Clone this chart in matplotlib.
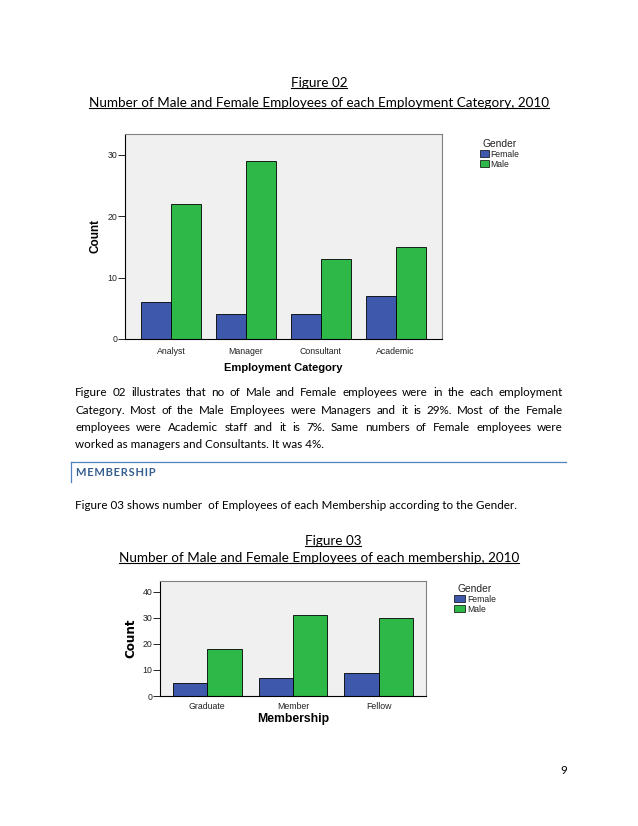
import numpy as np
import matplotlib
matplotlib.use("Agg")
import matplotlib.pyplot as plt
from matplotlib.lines import Line2D
from matplotlib.patches import Patch

# data
emp_categories = ["Analyst", "Manager", "Consultant", "Academic"]
emp_female = [6, 4, 4, 7]
emp_male = [22, 29, 13, 15]

mem_categories = ["Graduate", "Member", "Fellow"]
mem_female = [5, 7, 9]
mem_male = [18, 31, 30]

para_lines = [
    "Figure 02 illustrates that no of Male and Female employees were in the each employment",
    "Category. Most of the Male Employees were Managers and it is 29%. Most of the Female",
    "employees were Academic staff and it is 7%.  Same numbers of Female employees were",
    "worked as managers and Consultants. It was 4%.",
]
fig03_line = "Figure 03 shows number  of Employees of each Membership according to the Gender."

W, H = 638, 826
BODY = "Lato"
CHART = "Liberation Sans"
FEM_COL = "#3e58ac"
MALE_COL = "#2eb848"

fig = plt.figure(figsize=(W / 100, H / 100), dpi=100)
renderer = fig.canvas.get_renderer()


def fx(x):
    return x / W


def fy(y):
    return 1 - y / H


def put(x, y, s, size, ha="left", underline=False, **kw):
    t = fig.text(fx(x), fy(y), s, fontsize=size, family=BODY, ha=ha, va="center", **kw)
    if underline:
        bb = t.get_window_extent(renderer)
        yl = bb.y0 + 1
        fig.add_artist(Line2D([bb.x0 / W, bb.x1 / W], [yl / H, yl / H],
                              transform=fig.transFigure, color="black", lw=0.8))
    return t


def justify(x0, x1, y, line, size):
    words = line.split()
    widths = []
    for w in words:
        t = fig.text(0, 0, w, fontsize=size, family=BODY)
        widths.append(t.get_window_extent(renderer).width)
        t.remove()
    gap = (x1 - x0 - sum(widths)) / (len(words) - 1)
    x = x0
    for w, wd in zip(words, widths):
        put(x, y, w, size)
        x += wd + gap


def bar_chart(rect, cats, fem, male, ylim, yticks, xlabel, xpad, legend_xy, handle_len,
              count_kw, xlabel_size, tick_pad, label_pad):
    ax = fig.add_axes(rect)
    x = np.arange(len(cats))
    bw = 0.4
    ax.bar(x - bw / 2, fem, bw, color=FEM_COL, edgecolor="black", linewidth=0.6, label="Female")
    ax.bar(x + bw / 2, male, bw, color=MALE_COL, edgecolor="black", linewidth=0.6, label="Male")
    ax.set_facecolor("#f0f0f0")
    ax.set_xlim(-xpad, len(cats) - 1 + xpad)
    ax.set_ylim(*ylim)
    ax.set_yticks(yticks)
    ax.set_xticks(x)
    ax.set_xticklabels(cats, fontsize=6.3, family=CHART, color="#222222")
    for lab in ax.get_yticklabels():
        lab.set_fontsize(6.3)
        lab.set_family(CHART)
        lab.set_color("#222222")
    ax.tick_params(axis="x", length=0, pad=tick_pad)
    ax.tick_params(axis="y", length=5, width=0.6, pad=0.5)
    for s in ["top", "right"]:
        ax.spines[s].set_color("#808080")
        ax.spines[s].set_linewidth(0.8)
    for s in ["left", "bottom"]:
        ax.spines[s].set_color("black")
        ax.spines[s].set_linewidth(0.8)
    ax.set_xlabel(xlabel, fontsize=xlabel_size, family=CHART, fontweight="bold", labelpad=label_pad)
    ax.set_ylabel("Count", fontweight="bold", labelpad=4, **count_kw)
    handles = [Patch(facecolor=FEM_COL, edgecolor="black", linewidth=0.5, label="Female"),
               Patch(facecolor=MALE_COL, edgecolor="black", linewidth=0.5, label="Male")]
    leg = ax.legend(handles=handles, title="Gender", loc="upper left",
                    bbox_to_anchor=(fx(legend_xy[0]), fy(legend_xy[1])),
                    bbox_transform=fig.transFigure, frameon=False,
                    prop={"family": CHART, "size": 6.2},
                    title_fontproperties={"family": CHART, "size": 7.4},
                    handlelength=handle_len, handleheight=0.9, handletextpad=0.2,
                    labelspacing=0.1, borderpad=0, borderaxespad=0)
    leg.get_title().set_color("#222222")
    for t in leg.get_texts():
        t.set_color("#222222")
    return ax


# Figure 02 block
put(319, 83, "Figure 02", 9.7, ha="center", underline=True)
put(319, 103, "Number of Male and Female Employees of each Employment Category, 2010", 9.7,
    ha="center", underline=True)

bar_chart([fx(125), fy(339), (442 - 125) / W, (339 - 134) / H],
          emp_categories, emp_female, emp_male, (0, 33.4), [0, 10, 20, 30], "Employment Category",
          0.62, (480, 139), 1.0, {"fontsize": 8.5, "family": CHART}, 8, 5.5, 5)

# paragraph
for i, line in enumerate(para_lines):
    yy = 393 + i * 17.3
    if i < len(para_lines) - 1:
        justify(75, 563, yy, line, 8.4)
    else:
        put(75, yy, line, 8.4)

# section heading with rule
fig.add_artist(Line2D([fx(71), fx(566)], [fy(462), fy(462)], transform=fig.transFigure,
                      color="#4f81bd", lw=0.9))
fig.add_artist(Line2D([fx(71), fx(71)], [fy(462), fy(482)], transform=fig.transFigure,
                      color="#4f81bd", lw=0.9))
fig.text(fx(76), fy(473), "\u200a".join("MEMBERSHIP"), fontsize=8,
         family=BODY, fontweight="bold", color="#365f91", va="center")

put(75, 506, fig03_line, 8.4)

# Figure 03 block
put(333, 541, "Figure 03", 9.7, ha="center", underline=True)
put(319, 558, "Number of Male and Female Employees of each membership, 2010", 9.7,
    ha="center", underline=True)

bar_chart([fx(160), fy(696), (426 - 160) / W, (696 - 581) / H],
          mem_categories, mem_female, mem_male, (0, 44.2), [0, 10, 20, 30, 40], "Membership",
          0.55, (454, 584), 1.3,
          {"fontsize": 9.5, "family": "DejaVu Sans", "fontstretch": "condensed"}, 8.8, 4, 2)

put(560, 770, "9", 8.4)

fig.savefig("out.png", dpi=100)
